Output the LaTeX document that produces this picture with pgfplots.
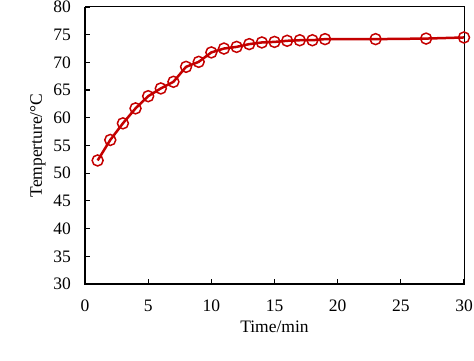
\documentclass[border=0pt]{standalone}
\usepackage{fontspec}
\setmainfont{Liberation Serif}
\usepackage{pgfplots}
\pgfplotsset{compat=1.18}
\definecolor{curve}{RGB}{196,0,0}
\begin{document}
\fontsize{17.5bp}{21bp}\selectfont
\begin{tikzpicture}
\begin{axis}[
  at={(85bp,77bp)}, anchor=south west,
  scale only axis, width=379bp, height=277bp,
  xmin=0, xmax=30, ymin=30, ymax=80,
  xtick={0,5,...,30}, ytick={30,35,...,80},
  tick align=inside, xtick pos=left, ytick pos=left,
  major tick length=5bp,
  tick style={line width=1.2bp, black},
  axis line style={line width=1bp, black},
  /pgf/number format/assume math mode=true,
  ticklabel style={font=\fontsize{17.5bp}{21bp}\selectfont},
  yticklabel style={xshift=-8bp},
  xticklabel style={yshift=-10bp},
  xlabel={Time/min}, ylabel={Temperture/\textdegree C},
  label style={font=\fontsize{17.5bp}{21bp}\selectfont},
  xlabel style={yshift=3bp},
  ylabel style={yshift=-4bp},
  clip=false,
]
\addplot[curve, line width=2.5bp, mark=o, mark size=5.5bp,
  mark options={line width=1.5bp, fill=none}] coordinates {
(1,52.3) (2,56.0) (3,59.0) (4,61.7) (5,63.9) (6,65.3) (7,66.5) (8,69.2)
(9,70.1) (10,71.8) (11,72.5) (12,72.8) (13,73.3) (14,73.6) (15,73.7)
(16,73.9) (17,74.0) (18,74.0) (19,74.2) (23,74.2) (27,74.3) (30,74.5)
};
\draw[line width=2bp, black] (rel axis cs:0,1) -- (rel axis cs:0,0) -- (rel axis cs:1,0);
\end{axis}
\pgfresetboundingbox
\useasboundingbox (0,0) rectangle (474bp,361bp);
\end{tikzpicture}
\end{document}
